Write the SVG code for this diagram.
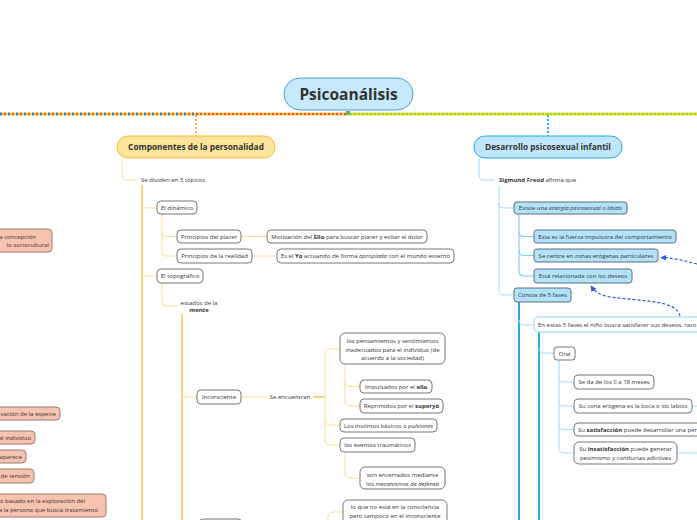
<svg xmlns="http://www.w3.org/2000/svg" width="697" height="520" viewBox="0 0 697 520">
<defs>
<style>
text{font-family:"Open Sans","Liberation Sans",sans-serif;fill:#333;}
.t{font-size:6px;}
.c{text-anchor:middle;}
.e{text-anchor:end;}
.b{font-weight:bold;}
.i{font-style:italic;}
.gb{fill:#fff;stroke:#777;stroke-width:1;}
.bb{fill:#b3e3f8;stroke:#5f6f7d;stroke-width:1;}
.pb{fill:#f8c2b0;stroke:#9b7b70;stroke-width:1;}
.yl{fill:none;stroke:#fcdc92;stroke-width:1;}
.yo{fill:none;stroke:#f8c44f;stroke-width:1.5;}
.bl{fill:none;stroke:#a3dbf6;stroke-width:1;}
.bm{fill:none;stroke:#7fcff2;stroke-width:1.2;}
.bd{fill:none;stroke:#29aae2;stroke-width:2;}
.da{fill:none;stroke:#2a5ad8;stroke-width:1.2;stroke-dasharray:3 2;}
</style>
<marker id="ah" viewBox="0 0 10 10" refX="9" refY="5" markerWidth="6" markerHeight="6" orient="auto" markerUnits="userSpaceOnUse">
<path d="M0,0 L10,5 L0,10 z" fill="#2a5ad8"/>
</marker>
</defs>
<rect width="697" height="520" fill="#fff"/>

<g id="connectors">
<!-- main line -->
<line x1="0" y1="114" x2="348" y2="114" stroke="#ffcc33" stroke-width="2.5"/>
<line x1="0" y1="114" x2="348" y2="114" stroke="#f4572a" stroke-width="2.5" stroke-dasharray="2 2"/>
<line x1="0" y1="114" x2="195" y2="114" stroke="#3d6fd1" stroke-width="2.5" stroke-dasharray="2 6"/>
<line x1="348" y1="114" x2="697" y2="114" stroke="#9acd32" stroke-width="2.5"/>
<line x1="348" y1="114" x2="697" y2="114" stroke="#f0e000" stroke-width="2.5" stroke-dasharray="2 2"/>
<rect x="346" y="111" width="4" height="4" fill="#6ab04c"/>
<line x1="196" y1="115" x2="196" y2="136" stroke="#f6b13a" stroke-width="2" stroke-dasharray="2 2"/>
<line x1="548" y1="115" x2="548" y2="136" stroke="#29aae2" stroke-width="2" stroke-dasharray="2 2"/>

<!-- Componentes subtree -->
<path class="yl" d="M122,158 V175 Q122,180 127,180 H138"/>
<path class="yo" d="M142,185 V520"/>
<path class="yl" d="M142,203 Q142,208 147,208 H157"/>
<path class="yl" d="M142,271 Q142,276 147,276 H157"/>
<path class="yl" d="M162,214 V251 Q162,256 167,256 H177"/>
<path class="yl" d="M162,232 Q162,236.5 167,236.5 H177"/>
<line class="yl" x1="241" y1="236.5" x2="267" y2="236.5"/>
<line class="yl" x1="252" y1="256" x2="277" y2="256"/>
<path class="yl" d="M162,283 V301 Q162,306 167,306 H178"/>
<path class="yo" d="M182,314 V520"/>
<path class="yl" d="M182,392 Q182,397 187,397 H197"/>
<line class="yl" x1="241" y1="397" x2="268" y2="397"/>
<line class="yo" x1="313" y1="397" x2="325" y2="397"/>
<path class="yl" d="M340,349 H330 Q325,349 325,354 V440 Q325,445 330,445 H340"/>
<path class="yl" d="M325,420 Q325,425 330,425 H340"/>
<path class="yl" d="M345,364 V401 Q345,406 350,406 H360"/>
<path class="yl" d="M345,382 Q345,386.5 350,386.5 H360"/>
<path class="yl" d="M345,452 V473 Q345,478 350,478 H360"/>
<path class="yl" d="M343,512 H333 Q328,512 328,517 V525"/>

<!-- Desarrollo subtree -->
<path class="bl" d="M479,158 V175 Q479,180 484,180 H495"/>
<path class="bl" d="M499,186 V290 Q499,295 504,295 H514"/>
<path class="bl" d="M499,203 Q499,208 504,208 H514"/>
<path class="bm" d="M519,214 V271 Q519,276 524,276 H534"/>
<path class="bm" d="M519,232 Q519,236.5 524,236.5 H534"/>
<path class="bm" d="M519,251 Q519,255.5 524,255.5 H534"/>
<path class="bd" d="M519,302 V520"/>
<path class="bl" d="M519,320 Q519,325 524,325 H534"/>
<path class="bd" d="M539,332 V520"/>
<path class="bl" d="M539,348 Q539,353 544,353 H554"/>
<path class="bl" d="M559,360 V448 Q559,453 564,453 H574"/>
<path class="bl" d="M559,377 Q559,382 564,382 H574"/>
<path class="bl" d="M559,401 Q559,406 564,406 H574"/>
<path class="bl" d="M559,425 Q559,429.5 564,429.5 H574"/>
<line class="bl" x1="692" y1="406" x2="697" y2="406"/>
<line class="bl" x1="677" y1="453" x2="697" y2="453"/>

<!-- dashed relation arrows -->
<path class="da" d="M697,264 C685,261 675,258 661,257.5" marker-end="url(#ah)"/>
<path class="da" d="M680,316 C677,300 640,301 610,297 C600,295 595,292 591,286" marker-end="url(#ah)"/>
</g>

<g id="n-title">
<rect x="284" y="78" width="129" height="32" rx="16" fill="#c6e9fb" stroke="#4a9fd8" stroke-width="1"/>
<text x="348.5" y="100" class="c b" font-size="15.5" fill="#111">Psicoanálisis</text>
</g>

<g id="n-componentes">
<rect x="117" y="136" width="158" height="22" rx="11" fill="#fde49b" stroke="#f7b731" stroke-width="1"/>
<text x="196" y="150" class="c b" font-size="8.3" fill="#222">Componentes de la personalidad</text>
</g>
<g id="n-desarrollo">
<rect x="474" y="136" width="148" height="22" rx="11" fill="#bfe6fb" stroke="#27a9e1" stroke-width="1"/>
<text x="548" y="150" class="c b" font-size="8.3" fill="#222">Desarrollo psicosexual infantil</text>
</g>

<g id="n-sedividen"><text x="141" y="182" class="t">Se dividen en 3 tópicos</text></g>
<g id="n-dinamico"><rect class="gb" x="157" y="201" width="40" height="13" rx="4"/><text class="t c" x="177" y="209.7">El dinámico</text></g>
<g id="n-placer"><rect class="gb" x="177" y="230" width="64" height="13" rx="4"/><text class="t c" x="209" y="238.7">Principios del placer</text></g>
<g id="n-motivacion"><rect class="gb" x="267" y="230" width="160" height="13" rx="4"/><text class="t c" x="347" y="238.7">Motivación del <tspan class="b">Ello</tspan> para buscar placer y evitar el dolor</text></g>
<g id="n-realidad"><rect class="gb" x="177" y="249" width="75" height="14" rx="4"/><text class="t c" x="214.5" y="258">Principios de la realidad</text></g>
<g id="n-yo"><rect class="gb" x="277" y="249" width="177" height="14" rx="4"/><text class="t c" x="365.5" y="258">Es el <tspan class="b">Yo</tspan> actuando de forma <tspan class="i">apropiada</tspan> con el mundo externo</text></g>
<g id="n-topografico"><rect class="gb" x="157" y="269" width="46" height="14" rx="4"/><text class="t c" x="180" y="278">El topográfico</text></g>
<g id="n-estados"><text class="t c" x="199" y="305">estados de la</text><text class="t c b" x="199" y="312">mente</text></g>
<g id="n-incorsciente"><rect class="gb" x="197" y="390" width="44" height="14" rx="4"/><text class="t c" x="219" y="399">Incorsciente</text></g>
<g id="n-seencuentran"><text class="t c" x="290" y="399">Se encuentran</text></g>
<g id="n-pensamientos"><rect class="gb" x="340" y="333" width="105" height="31" rx="5"/>
<text class="t c" x="392.5" y="343">los pensamientos y sentimientos</text>
<text class="t c" x="392.5" y="351.5">inadecuados para el individuo (de</text>
<text class="t c" x="392.5" y="360">acuerdo a la sociedad)</text></g>
<g id="n-impulsados"><rect class="gb" x="360" y="380" width="72" height="13" rx="4"/><text class="t c" x="396" y="388.7">Impulsados por el <tspan class="b">ello</tspan></text></g>
<g id="n-reprimidos"><rect class="gb" x="360" y="399" width="83" height="14" rx="4"/><text class="t c" x="401.5" y="408">Reprimidos por el <tspan class="b">superyó</tspan></text></g>
<g id="n-instintos"><rect class="gb" x="340" y="419" width="97" height="13" rx="4"/><text class="t c" x="388.5" y="427.7">Los instintos básicos o <tspan class="i">pulsiones</tspan></text></g>
<g id="n-eventos"><rect class="gb" x="340" y="438" width="75" height="14" rx="4"/><text class="t c" x="377.5" y="447">los eventos traumáticos</text></g>
<g id="n-encerrados"><rect class="gb" x="360" y="467" width="85" height="22" rx="5"/>
<text class="t c" x="402.5" y="476.5">son encerrados mediante</text>
<text class="t c" x="402.5" y="485.5">los <tspan class="i">mecanismos de defensa</tspan></text></g>
<g id="n-loquenoesta"><rect class="gb" x="343" y="500" width="104" height="30" rx="5"/>
<text class="t c" x="395" y="508.5">lo que no está en la consciencia</text>
<text class="t c" x="395" y="517.5">pero tampoco en el inconsciente</text></g>
<g id="n-preconsciente"><rect class="gb" x="199" y="519" width="43" height="14" rx="4"/></g>

<g id="n-freud"><text class="t" x="499" y="182"><tspan class="b">Sigmund Freud</tspan> afirma que</text></g>
<g id="n-existe"><rect class="bb" x="514" y="202" width="113" height="12" rx="3"/><text class="t c" x="570.5" y="210.2">Existe una <tspan class="i">energía psicosexual o libido</tspan></text></g>
<g id="n-fuerza"><rect class="bb" x="534" y="230" width="142" height="13" rx="3"/><text class="t c" x="605" y="238.7">Esta es la fuerza impulsora del comportamiento</text></g>
<g id="n-zonas"><rect class="bb" x="534" y="249" width="124" height="13" rx="3"/><text class="t c" x="596" y="257.7">Se centra en zonas erógenas particulares</text></g>
<g id="n-deseos"><rect class="bb" x="534" y="269" width="98" height="14" rx="3"/><text class="t c" x="583" y="278">Está relacionada con los deseos</text></g>
<g id="n-consta"><rect class="bb" x="514" y="288" width="57" height="14" rx="3"/><text class="t c" x="542.5" y="297">Consta de 5 fases</text></g>
<g id="n-enestas"><rect x="534" y="317" width="180" height="15" rx="4" fill="#fff" stroke="#b3e3f8" stroke-width="1.5"/><text class="t" x="538" y="327">En estas 5 fases el niño busca satisfacer sus deseos, razo</text></g>
<g id="n-oral"><rect class="gb" x="554" y="347" width="21" height="13" rx="3"/><text class="t c" x="564.5" y="355.7">Oral</text></g>
<g id="n-meses"><rect class="gb" x="574" y="375" width="80" height="14" rx="4"/><text class="t c" x="614" y="384">Se da de los 0 a 18 meses</text></g>
<g id="n-boca"><rect class="gb" x="574" y="399" width="118" height="14" rx="4"/><text class="t c" x="633" y="408">Su zona erógena es la boca o los labios</text></g>
<g id="n-satisfaccion"><rect class="gb" x="574" y="423" width="140" height="13" rx="4"/><text class="t" x="578" y="431.7">Su <tspan class="b">satisfacción</tspan> puede desarrollar una per</text></g>
<g id="n-insatisfaccion"><rect class="gb" x="574" y="442" width="103" height="22" rx="5"/>
<text class="t c" x="625.5" y="450.5">Su <tspan class="b">insatisfacción</tspan> puede generar</text>
<text class="t c" x="625.5" y="459.5">pesimismo y conductas adictivas</text></g>

<g id="n-left1"><rect class="pb" x="-20" y="229" width="72" height="23" rx="4"/><text class="t e" x="36" y="239">a concepción</text><text class="t e" x="49" y="247">lo sociocultural</text></g>
<g id="n-left2"><rect class="pb" x="-20" y="407" width="80" height="13" rx="4"/><text class="t e" x="56" y="415.5">vación de la especie</text></g>
<g id="n-left3"><rect class="pb" x="-20" y="431" width="55" height="13" rx="4"/><text class="t e" x="31" y="439.5">al individuo</text></g>
<g id="n-left4"><rect class="pb" x="-20" y="450" width="46" height="13" rx="4"/><text class="t e" x="22" y="458.5">aparece</text></g>
<g id="n-left5"><rect class="pb" x="-20" y="469" width="54" height="14" rx="4"/><text class="t e" x="30" y="478">de tensión</text></g>
<g id="n-left6"><rect class="pb" x="-20" y="494" width="126" height="23" rx="4"/><text class="t e" x="85" y="503">to basado en la exploración del</text><text class="t e" x="98" y="512">a la persona que busca tratamiento</text></g>
</svg>
